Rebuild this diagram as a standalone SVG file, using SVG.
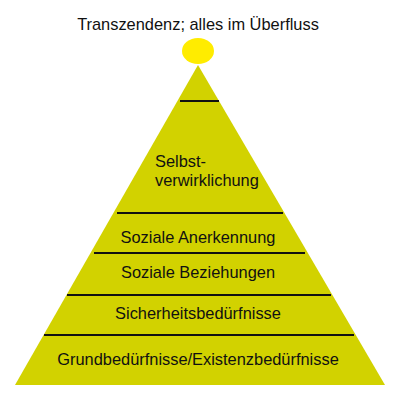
<svg xmlns="http://www.w3.org/2000/svg" width="400" height="400" viewBox="0 0 400 400">
<style>
text{font-family:"Liberation Sans",Arial,sans-serif;font-size:16.4px;fill:#111;}
.c{text-anchor:middle;}
.sep{stroke:#111;stroke-width:2.2;}
</style>
<rect width="400" height="400" fill="#fff"/>
<g id="title"><text class="c" x="198" y="30">Transzendenz; alles im Überfluss</text></g>
<g id="sun"><ellipse cx="198" cy="51" rx="16" ry="13" fill="#ffec00"/></g>
<g id="pyramid"><polygon points="198,65 15,385 385,385" fill="#d2d200"/></g>
<g id="connectors">
<line class="sep" x1="180" y1="101" x2="219" y2="101"/>
<line class="sep" x1="117" y1="213" x2="283" y2="213"/>
<line class="sep" x1="94" y1="253" x2="305" y2="253"/>
<line class="sep" x1="67" y1="295" x2="331" y2="295"/>
<line class="sep" x1="44" y1="335" x2="354" y2="335"/>
</g>
<g id="self"><text x="155" y="167">Selbst-</text><text x="155" y="186">verwirklichung</text></g>
<g id="recognition"><text class="c" x="198" y="243">Soziale Anerkennung</text></g>
<g id="relations"><text class="c" x="198" y="278">Soziale Beziehungen</text></g>
<g id="safety"><text class="c" x="198" y="319">Sicherheitsbedürfnisse</text></g>
<g id="basic"><text class="c" x="198" y="365">Grundbedürfnisse/Existenzbedürfnisse</text></g>
</svg>
